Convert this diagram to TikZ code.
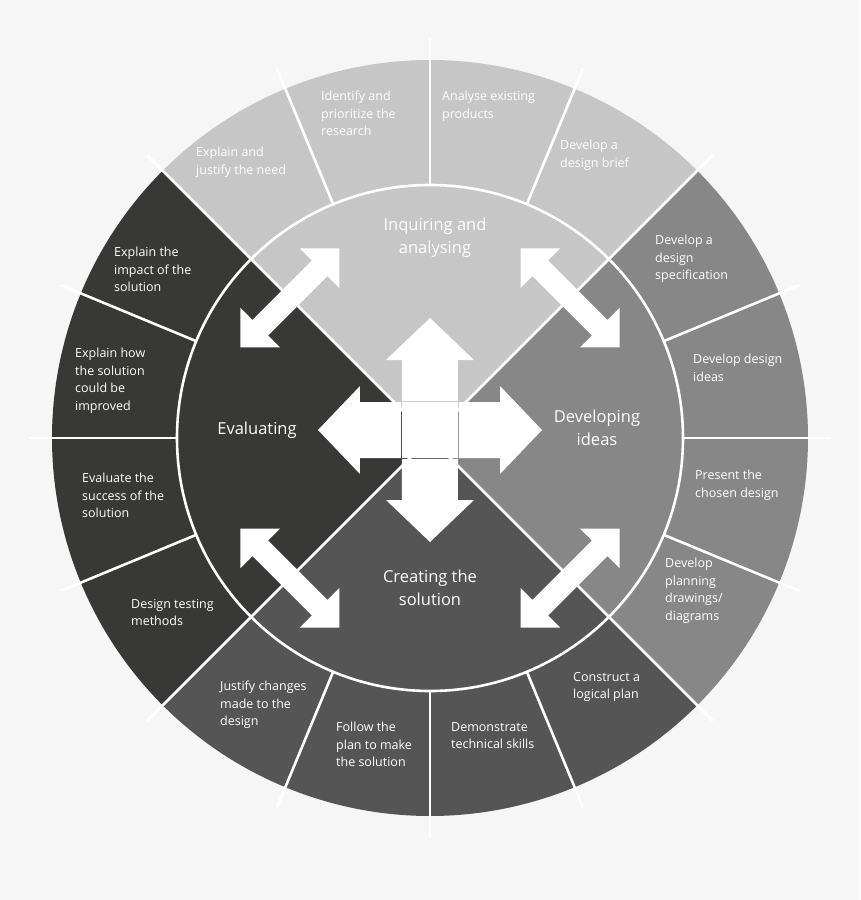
\documentclass[tikz,border=0pt]{standalone}
\usepackage{fontspec}
\setmainfont{Open Sans}
\definecolor{bg}{HTML}{F6F6F6}
\definecolor{cinq}{HTML}{C6C6C6}
\definecolor{cdev}{HTML}{878787}
\definecolor{ccre}{HTML}{555555}
\definecolor{ceva}{HTML}{383836}
\begin{document}
\begin{tikzpicture}[x=1pt,y=1pt,
  lbl/.style={anchor=north west,align=left,text=white,inner sep=0pt,font=\fontsize{12.5}{17.5}\selectfont},
  ttl/.style={align=center,text=white,inner sep=0pt,font=\fontsize{16.5}{23}\selectfont},
  sep/.style={white,line width=2.6pt}]
\def\R{378}\def\r{253}
\fill[bg] (-430,-462) rectangle (430,438);
\useasboundingbox (-430,-462) rectangle (430,438);
% outer ring sectors
\foreach \a/\c in {45/cinq,67.5/cinq,90/cinq,112.5/cinq,
  -45/cdev,-22.5/cdev,0/cdev,22.5/cdev,
  -135/ccre,-112.5/ccre,-90/ccre,-67.5/ccre,
  135/ceva,157.5/ceva,180/ceva,202.5/ceva}
  \fill[\c] (0,0) -- (\a:\R) arc[start angle=\a,delta angle=22.5,radius=\R] -- cycle;
\foreach \a in {0,22.5,...,337.5}
  \draw[sep] (\a:\r) -- (\a:\R+22);
% inner disc
\fill[cinq] (0,0) -- (45:\r) arc[start angle=45,end angle=135,radius=\r] -- cycle;
\fill[cdev] (0,0) -- (-45:\r) arc[start angle=-45,end angle=45,radius=\r] -- cycle;
\fill[ccre] (0,0) -- (-135:\r) arc[start angle=-135,end angle=-45,radius=\r] -- cycle;
\fill[ceva] (0,0) -- (135:\r) arc[start angle=135,end angle=225,radius=\r] -- cycle;
\foreach \a in {45,135,225,315} \draw[sep] (0,0) -- (\a:\r);
\draw[sep] (0,0) circle[radius=\r];
% central cross arrow
\begin{scope}[shift={(0,8)}]
\fill[white] (-28,-28)
  \foreach \k in {0,90,180,270} {
   -- ([rotate=\k]-28,-28) -- ([rotate=\k]28,-28)
  };
\foreach \k in {0,90,180,270}
  \fill[white,rotate=\k] (-28,-29) -- (-28,-70) -- (-44,-70) -- (0,-112) -- (44,-70) -- (28,-70) -- (28,-29) -- cycle;
\end{scope}
% diagonal double arrows
\foreach \a in {45,135,225,315}
  \fill[white,shift={(\a:198)},rotate=\a] (-11,-42) -- (-28,-42) -- (0,-70) -- (28,-42) -- (11,-42) -- (11,42) -- (28,42) -- (0,70) -- (-28,42) -- (-11,42) -- cycle;
% titles
\node[ttl] (inq) at (5,200) {Inquiring and\\analysing};
\node[ttl] (dev) at (167,10) {Developing\\ideas};
\node[ttl] (cre) at (0,-150) {Creating the\\solution};
\node[ttl] (eva) at (-173,8) {Evaluating};
% outer labels
\node[lbl] (l1) at (-234,291) {Explain and\\justify the need};
\node[lbl] (l2) at (-109,347) {Identify and\\prioritize the\\research};
\node[lbl] (l3) at (12,347) {Analyse existing\\products};
\node[lbl] (l4) at (130,298) {Develop a\\design brief};
\node[lbl] (l5) at (225,203) {Develop a\\design\\specification};
\node[lbl] (l6) at (263,84) {Develop design\\ideas};
\node[lbl] (l7) at (265,-32) {Present the\\chosen design};
\node[lbl] (l8) at (235,-120) {Develop\\planning\\drawings/\\diagrams};
\node[lbl] (l9) at (143,-234) {Construct a\\logical plan};
\node[lbl] (l10) at (21,-284) {Demonstrate\\technical skills};
\node[lbl] (l11) at (-94,-284) {Follow the\\plan to make\\the solution};
\node[lbl] (l12) at (-210,-243) {Justify changes\\made to the\\design};
\node[lbl] (l13) at (-299,-161) {Design testing\\methods};
\node[lbl] (l14) at (-348,-35) {Evaluate the\\success of the\\solution};
\node[lbl] (l15) at (-355,90) {Explain how\\the solution\\could be\\improved};
\node[lbl] (l16) at (-316,191) {Explain the\\impact of the\\solution};
\end{tikzpicture}
\end{document}
